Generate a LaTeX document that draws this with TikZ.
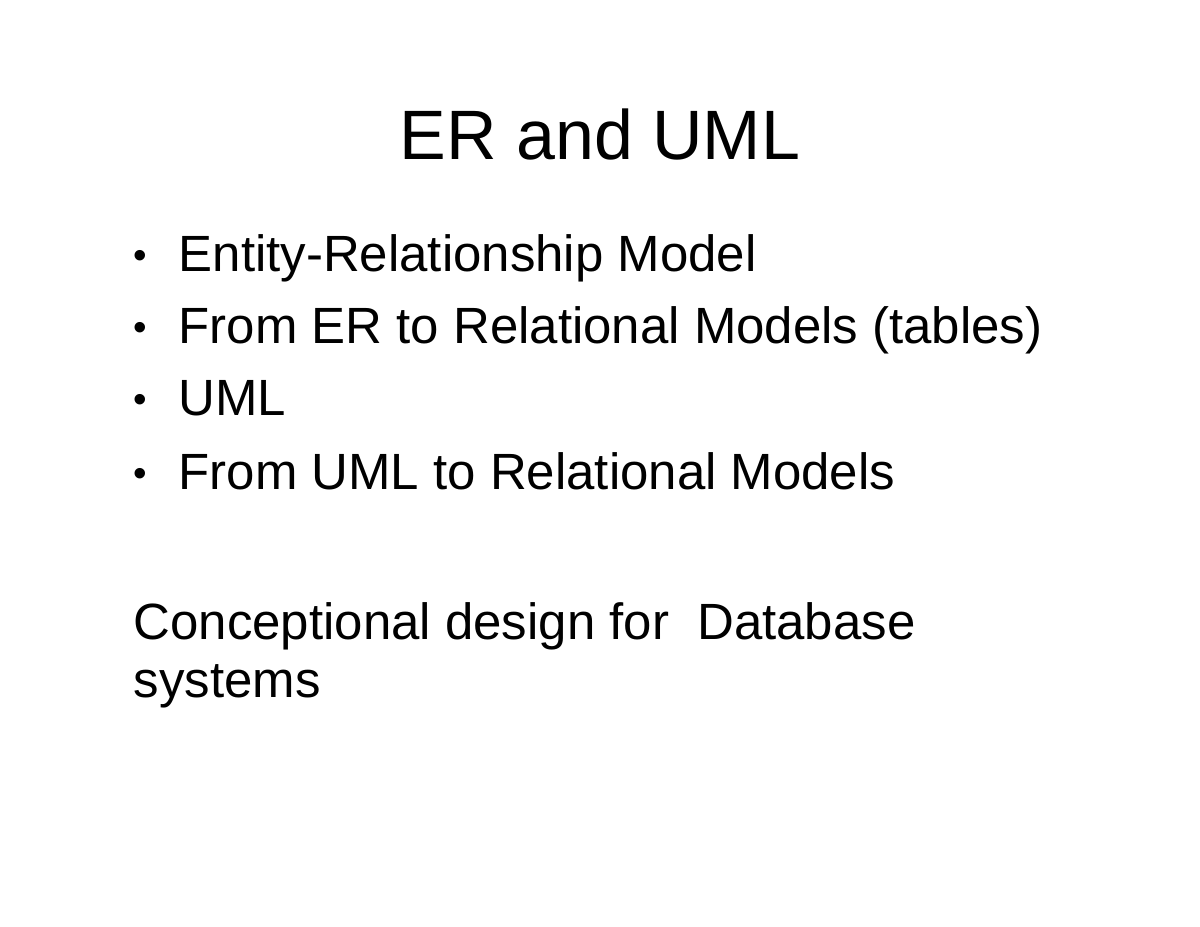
\documentclass[tikz,border=0pt]{standalone}
\usepackage{fontspec}
\setmainfont{Liberation Sans}
\usetikzlibrary{positioning}
\tikzset{
  title/.style={anchor=base, font=\fontsize{19.9}{24}\selectfont},
  item/.style={anchor=base west, font=\fontsize{14.5}{17}\selectfont, inner sep=0pt},
  dot/.style={anchor=base west, font=\fontsize{11}{13}\selectfont, inner sep=0pt}
}
\begin{document}
\begin{tikzpicture}
\useasboundingbox (0,0) rectangle (12,9.27);
\node[title] (Title) at (6, 7.67) {ER and UML};
\foreach \y/\txt [count=\i] in {6.55/Entity-Relationship Model,
                               5.83/From ER to Relational Models (tables),
                               5.11/UML,
                               4.37/From UML to Relational Models}{
    \node[dot] (Dot\i) at (1.33, \y+0.03) {\textbullet};
    \node[item] (Item\i) at (1.78, \y) {\txt};
}
\node[item] (Note1) at (1.33, 2.87) {Conceptional design for\ \ Database};
\node[item] (Note2) at (1.33, 2.29) {systems};
\end{tikzpicture}
\end{document}
